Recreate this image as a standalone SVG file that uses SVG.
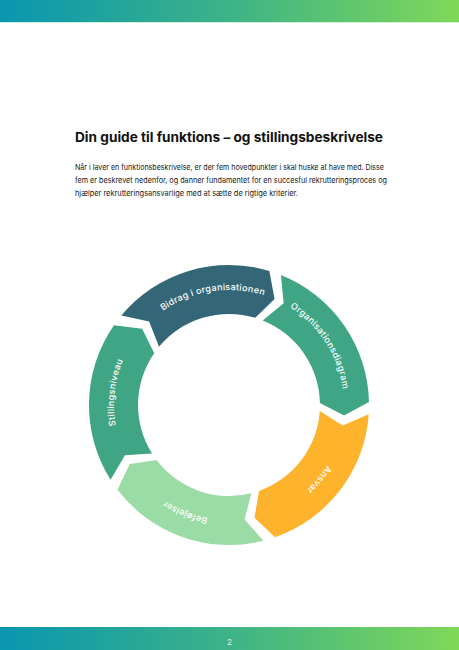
<svg xmlns="http://www.w3.org/2000/svg" xmlns:xlink="http://www.w3.org/1999/xlink" width="459" height="650" viewBox="0 0 459 650">
  <style>
    .title { font-family: Inter, "Liberation Sans", sans-serif; font-weight: 700; font-size: 13px; fill: #111111; }
    .body { font-family: Inter, "Liberation Sans", sans-serif; font-size: 7.8px; fill: #1a1a1a; }
    .lbl { font-family: Inter, "Liberation Sans", sans-serif; font-weight: 500; font-size: 9px; fill: #ffffff; letter-spacing: 0.3px; }
    .pg { font-family: Inter, "Liberation Sans", sans-serif; font-size: 8px; fill: #e4f3ea; }
  </style>
  <defs>
    <linearGradient id="bar" x1="0" y1="0" x2="1" y2="0">
      <stop offset="0" stop-color="#0996b0"/>
      <stop offset="0.5" stop-color="#3db387"/>
      <stop offset="1" stop-color="#7fd858"/>
    </linearGradient>
    <path id="seg" d="M-83.76,-112.18 A140,140 0 0 1 70.53,-120.94 L69.11,-92.54 L45.84,-78.61 A91,91 0 0 0 -54.45,-72.91 L-58.19,-99.77 Z"/>
    <path id="ring" d="M229,290 A115,115 0 1 1 229,520 A115,115 0 1 1 229,290 A115,115 0 1 1 229,520 A115,115 0 1 1 229,290"/>
  </defs>

  <rect x="0" y="0" width="459" height="22" fill="url(#bar)"/>
  <rect x="0" y="22" width="459" height="0.8" fill="#c9ecd3"/>
  <rect x="0" y="627" width="459" height="23" fill="url(#bar)"/>
  <text class="pg" x="229.5" y="645" text-anchor="middle">2</text>

  <text class="title" x="229" y="142" text-anchor="middle" textLength="308" lengthAdjust="spacingAndGlyphs">Din guide til funktions – og stillingsbeskrivelse</text>
  <text class="body" x="75" y="170" textLength="309" lengthAdjust="spacingAndGlyphs">Når i laver en funktionsbeskrivelse, er der fem hovedpunkter i skal huske at have med. Disse</text>
  <text class="body" x="75" y="183" textLength="312" lengthAdjust="spacingAndGlyphs">fem er beskrevet nedenfor, og danner fundamentet for en succesful rekrutteringsproces og</text>
  <text class="body" x="75" y="196" textLength="223" lengthAdjust="spacingAndGlyphs">hjælper rekrutteringsansvarlige med at sætte de rigtige kriterier.</text>

  <g id="bidrag">
    <use xlink:href="#seg" transform="translate(229,405) rotate(-13.5)" fill="#336777"/>
    <text class="lbl" text-anchor="middle"><textPath xlink:href="#ring" startOffset="704.5">Bidrag i organisationen</textPath></text>
  </g>
  <g id="organisationsdiagram">
    <use xlink:href="#seg" transform="translate(229,405) rotate(58.5)" fill="#3fa584"/>
    <text class="lbl" text-anchor="middle"><textPath xlink:href="#ring" startOffset="114.4">Organisationsdiagram</textPath></text>
  </g>
  <g id="ansvar">
    <use xlink:href="#seg" transform="translate(229,405) rotate(130.5)" fill="#fdb32b"/>
    <text class="lbl" text-anchor="middle"><textPath xlink:href="#ring" startOffset="259.9">Ansvar</textPath></text>
  </g>
  <g id="befojelser">
    <use xlink:href="#seg" transform="translate(229,405) rotate(202.5)" fill="#9adba6"/>
    <text class="lbl" text-anchor="middle"><textPath xlink:href="#ring" startOffset="405.4">Beføjelser</textPath></text>
  </g>
  <g id="stillingsniveau">
    <use xlink:href="#seg" transform="translate(229,405) rotate(274.5)" fill="#3fa584"/>
    <text class="lbl" text-anchor="middle"><textPath xlink:href="#ring" startOffset="554">Stillingsniveau</textPath></text>
  </g>
  <g id="connectors"/>
</svg>
